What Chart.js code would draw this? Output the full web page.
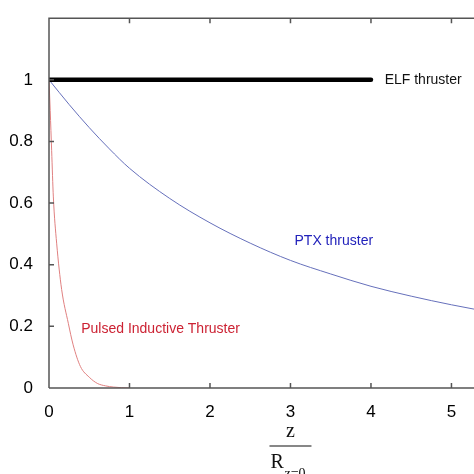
<!DOCTYPE html><html><head><style>html,body{margin:0;background:#fff}#w{width:474px;height:474px}</style>
<script src="https://cdn.jsdelivr.net/npm/chart.js@4"></script></head><body><div id="w"><canvas id="c"></canvas></div><script>
const elfZ=[0,4], elfV=[1,1];
const ptxZ=[0,0.25,0.5,0.75,1,1.5,2,2.5,3,3.5,4,4.5,5,5.3];
const ptxV=[1,0.92,0.845,0.776,0.713,0.615,0.536,0.47,0.414,0.37,0.33,0.298,0.27,0.255];
const pitZ=[0,0.015,0.033,0.054,0.095,0.157,0.24,0.3,0.39,0.5,0.6,0.7,0.8,0.9,1.0];
const pitV=[1,0.9,0.77,0.62,0.47,0.32,0.21,0.14,0.07,0.035,0.015,0.007,0.003,0.001,0];
const xTicks=[0,1,2,3,4,5], yTicks=[0,0.2,0.4,0.6,0.8,1];
const pts=(a,b)=>a.map((x,i)=>({x,y:b[i]}));
const F='"Liberation Sans", Arial, sans-serif';
const deco={id:'deco',afterDraw(ch){const c=ch.ctx,a=ch.chartArea,X=ch.scales.x,Y=ch.scales.y;c.save();
c.strokeStyle='#555';c.lineWidth=1.5;c.beginPath();c.moveTo(a.left,a.bottom);c.lineTo(a.left,a.top);c.lineTo(a.right,a.top);c.moveTo(a.left,a.bottom);c.lineTo(a.right,a.bottom);
xTicks.forEach(t=>{const p=X.getPixelForValue(t);c.moveTo(p,a.top);c.lineTo(p,a.top+5);c.moveTo(p,a.bottom);c.lineTo(p,a.bottom-5);});
yTicks.forEach(t=>{const p=Y.getPixelForValue(t);c.moveTo(a.left,p);c.lineTo(a.left+5,p);});c.stroke();
c.font='14px '+F;c.textBaseline='middle';c.textAlign='left';
c.fillStyle='#111';c.fillText('ELF thruster',X.getPixelForValue(4.17),Y.getPixelForValue(1));
c.fillStyle='#2222bb';c.fillText('PTX thruster',X.getPixelForValue(3.05),Y.getPixelForValue(0.475));
c.fillStyle='#cc2233';c.fillText('Pulsed Inductive Thruster',X.getPixelForValue(0.4),Y.getPixelForValue(0.192));
const cx=X.getPixelForValue(3.0);c.fillStyle='#111';c.textAlign='center';c.font='20px "Liberation Serif", serif';c.fillText('z',cx,432);
c.beginPath();c.moveTo(cx-21,446);c.lineTo(cx+21,446);c.lineWidth=1.2;c.strokeStyle='#111';c.stroke();
c.textAlign='left';c.fillText('R',cx-20,463);c.font='14px "Liberation Serif", serif';c.fillText('z=0',cx-6,474);c.restore();}};
new Chart(document.getElementById('c'),{type:'scatter',data:{datasets:[
{data:pts(elfZ,elfV),showLine:true,borderColor:'#000',borderWidth:4.5,pointRadius:0,borderCapStyle:'round'},
{data:pts(ptxZ,ptxV),showLine:true,borderColor:'#6670bb',borderWidth:1,pointRadius:0,cubicInterpolationMode:'monotone'},
{data:pts(pitZ,pitV),showLine:true,borderColor:'#e08080',borderWidth:1,pointRadius:0,cubicInterpolationMode:'monotone'}]},
options:{responsive:true,maintainAspectRatio:false,animation:false,layout:{padding:{top:0,right:0}},
plugins:{legend:{display:false},tooltip:{enabled:false}},
scales:{x:{type:'linear',min:0,max:5.28,grid:{display:false},border:{display:false},afterFit:s=>{s.height=86;},
afterBuildTicks:s=>{s.ticks=xTicks.map(v=>({value:v}));},ticks:{color:'#000',font:{size:17,family:F},padding:6,maxRotation:0}},
y:{min:0,max:1.2,grid:{display:false},border:{display:false},afterFit:s=>{s.width=49;},
afterBuildTicks:s=>{s.ticks=yTicks.map(v=>({value:v}));},ticks:{color:'#000',font:{size:17,family:F},padding:8,callback:v=>String(v)}}}},plugins:[deco]});
</script></body></html>
